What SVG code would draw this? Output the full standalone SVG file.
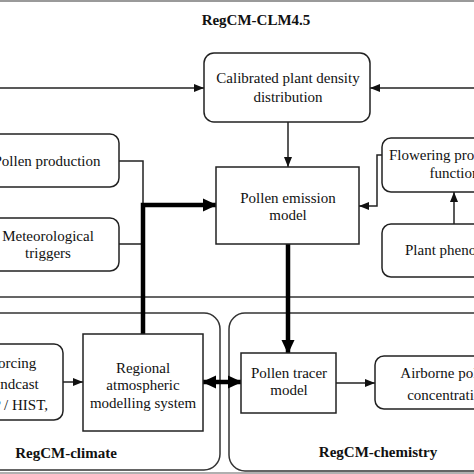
<svg xmlns="http://www.w3.org/2000/svg" width="474" height="474" viewBox="0 0 474 474">
<defs>
<style>
.box{fill:#fff;stroke:#222;stroke-width:1.5}
.frame{fill:none;stroke:#333;stroke-width:1.5}
.t{font-family:"Liberation Serif","Times New Roman",serif;font-size:15px;fill:#111;text-anchor:middle}
.b{font-weight:bold}
.e{text-anchor:end}
.thin{fill:none;stroke:#222;stroke-width:1.5}
.thick{fill:none;stroke:#000;stroke-width:4.5}
</style>
<marker id="ah" markerUnits="userSpaceOnUse" markerWidth="10" markerHeight="10" viewBox="0 0 10 10" refX="10" refY="5" orient="auto">
<path d="M0,1 L10,5 L0,9 Z" fill="#111"/>
</marker>
<marker id="AH" markerUnits="userSpaceOnUse" markerWidth="14" markerHeight="14" viewBox="0 0 14 14" refX="13" refY="7" orient="auto">
<path d="M0,0.5 L14,7 L0,13.5 Z" fill="#000"/>
</marker>
<marker id="AHs" markerUnits="userSpaceOnUse" markerWidth="14" markerHeight="14" viewBox="0 0 14 14" refX="1" refY="7" orient="auto">
<path d="M14,0.5 L0,7 L14,13.5 Z" fill="#000"/>
</marker>
</defs>
<rect width="474" height="474" fill="#fff"/>
<rect x="0" y="0" width="474" height="2" fill="#9a9a9a"/>
<rect x="0" y="472" width="474" height="2" fill="#b0b0b0"/>

<g id="regcm-clm45">
<rect class="frame" x="-10" y="-10" width="494" height="307"/>
<text class="t b" x="256" y="25">RegCM-CLM4.5</text>
</g>
<g id="regcm-climate">
<rect class="frame" x="-20" y="313" width="240" height="157" rx="16"/>
<text class="t b" x="66" y="458">RegCM-climate</text>
</g>
<g id="regcm-chemistry">
<rect class="frame" x="229" y="313" width="265" height="158" rx="16"/>
<text class="t b" x="378" y="457">RegCM-chemistry</text>
</g>

<g id="connectors">
<path class="thin" d="M0,88 H204" marker-end="url(#ah)"/>
<path class="thin" d="M474,88 H370" marker-end="url(#ah)"/>
<path class="thin" d="M288,122 V167" marker-end="url(#ah)"/>
<path class="thin" d="M119,161 H143 V205"/>
<path class="thin" d="M119,244 H143 V205"/>
<path class="thin" d="M382,155 H377 V206 H359" marker-end="url(#ah)"/>
<path class="thin" d="M454,224 V192" marker-end="url(#ah)"/>
<path class="thin" d="M63,382 H83" marker-end="url(#ah)"/>
<path class="thin" d="M336,383 H375" marker-end="url(#ah)"/>
<path class="thick" d="M143,334 V205 H216" marker-end="url(#AH)" stroke-linejoin="miter"/>
<path class="thick" d="M288,244 V353" marker-end="url(#AH)"/>
<path class="thick" d="M203,382 H241" marker-start="url(#AHs)" marker-end="url(#AH)"/>
</g>

<g id="calibrated">
<rect class="box" x="204" y="53" width="166" height="69" rx="10"/>
<text class="t" x="288" y="83">Calibrated plant density</text>
<text class="t" x="288" y="102">distribution</text>
</g>
<g id="pollen-production">
<rect class="box" x="-20" y="134" width="139" height="53" rx="9"/>
<text class="t" x="47" y="166">Pollen production</text>
</g>
<g id="meteorological">
<rect class="box" x="-20" y="218" width="139" height="53" rx="9"/>
<text class="t" x="48" y="241">Meteorological</text>
<text class="t" x="48" y="258">triggers</text>
</g>
<g id="pollen-emission">
<rect class="box" x="216" y="167" width="143" height="77"/>
<text class="t" x="288" y="203">Pollen emission</text>
<text class="t" x="288" y="220">model</text>
</g>
<g id="flowering">
<rect class="box" x="382" y="138" width="120" height="54" rx="9"/>
<text class="t" x="454.5" y="160">Flowering probability</text>
<text class="t" x="454.5" y="178">function</text>
</g>
<g id="phenology">
<rect class="box" x="382" y="224" width="120" height="53" rx="9"/>
<text class="t" x="454" y="255">Plant phenology</text>
</g>
<g id="forcing">
<rect class="box" x="-20" y="344" width="83" height="76" rx="9"/>
<text class="t" x="13" y="368">Forcing</text>
<text class="t" x="12" y="389">Hindcast</text>
<text class="t e" x="48" y="410">RCP / HIST,</text>
</g>
<g id="regional">
<rect class="box" x="83" y="334" width="120" height="97"/>
<text class="t" x="143" y="373">Regional</text>
<text class="t" x="143" y="390">atmospheric</text>
<text class="t" x="143" y="408">modelling system</text>
</g>
<g id="tracer">
<rect class="box" x="241" y="353" width="95" height="60"/>
<text class="t" x="289" y="378">Pollen tracer</text>
<text class="t" x="289" y="395">model</text>
</g>
<g id="airborne">
<rect class="box" x="375" y="356" width="130" height="53" rx="9"/>
<text class="t" x="448" y="378">Airborne pollen</text>
<text class="t" x="448" y="400">concentration</text>
</g>
</svg>
